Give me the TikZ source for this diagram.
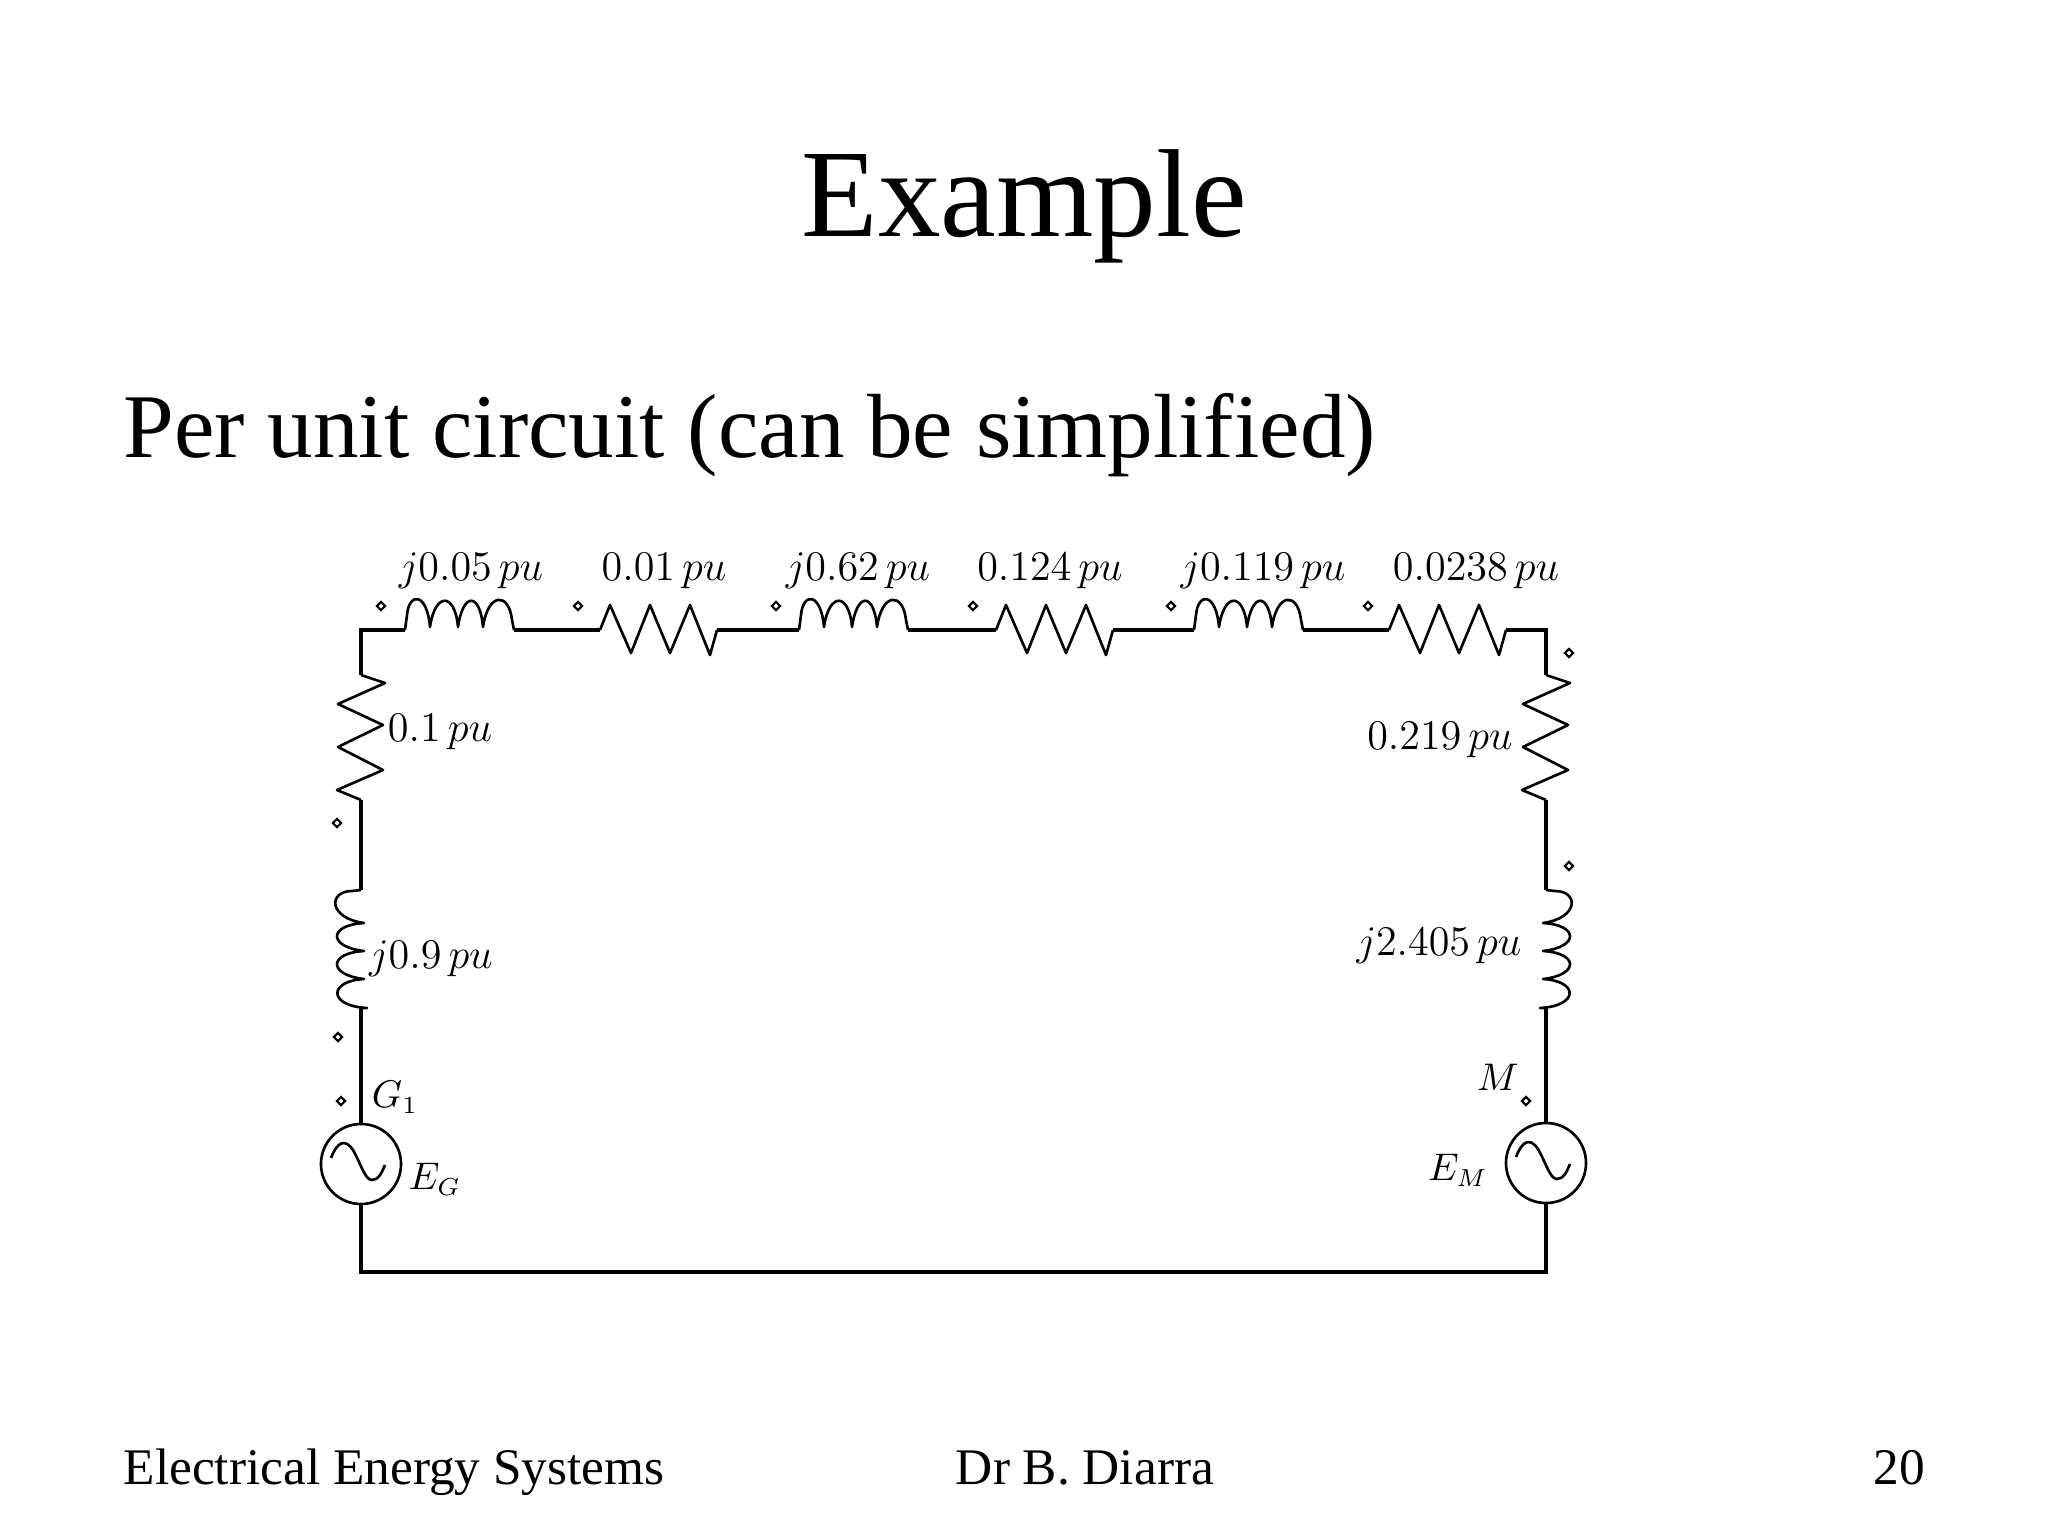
\documentclass[tikz,border=0pt]{standalone}
\usepackage{fontspec}
\setmainfont{Liberation Serif}
\usetikzlibrary{shapes.geometric}
\newcommand\pu{\,pu}
\tikzset{
  wire/.style={line width=1pt},
  part/.style={line width=0.75pt, line join=round},
  val/.style={inner sep=0pt, font=\fontsize{13}{16}\selectfont},
  tag/.style={inner sep=0pt, font=\fontsize{10.5}{13}\selectfont},
  dotm/.style={diamond, draw, line width=0.6pt, inner sep=0pt, minimum size=0.09cm},
  src/.style={circle, draw, part, inner sep=0pt, minimum size=0.8cm},
  resh/.pic={
    \coordinate (-a) at (0,0); \coordinate (-b) at (117,0);
    \draw[part] (-a) -- (10,-25) -- (31,23) -- (50,-25) -- (70,23) -- (90,-25) -- (110,25) -- (-b);
  },
  resv/.pic={
    \coordinate (-a) at (0,0); \coordinate (-b) at (0,125);
    \draw[part] (-a) -- (24,8) -- (-23,29) -- (22,50) -- (-23,72) -- (22,95) -- (-24,115) -- (-b);
  },
  indh/.pic={
    \coordinate (-a) at (0,0); \coordinate (-b) at (109,0);
    \draw[part] (-a) -- (2,-15) .. controls (4,-38) and (22,-38) .. (25,-3)
      .. controls (30,-38) and (50,-38) .. (53,-3)
      .. controls (58,-38) and (75,-38) .. (78,-3)
      .. controls (83,-38) and (104,-38) .. (107,-10) -- (-b);
  },
  indv/.pic={
    \coordinate (-a) at (0,0); \coordinate (-b) at (0,118);
    \draw[part] (-a) -- (9,1) .. controls (33,1) and (33,28) .. (-3,33)
      .. controls (33,35) and (33,57) .. (-3,61)
      .. controls (33,63) and (33,85) .. (-3,89)
      .. controls (33,91) and (33,116) .. (-6,118) -- (-b);
  },
  sine/.pic={
    \draw[part] (-30,-6) .. controls (-24,-22) and (-16,-26) .. (-8,-14)
      .. controls (0,0) and (4,16) .. (11,16) .. controls (18,16) and (21,8) .. (24,1);
  }
}
\begin{document}
\begin{tikzpicture}[x=0.01cm, y=-0.01cm]
\useasboundingbox (0,0) rectangle (2048,1536);
\node[anchor=base, font=\fontsize{35.6}{40}\selectfont] (title) at (1024,236) {Example};
\node[anchor=base west, inner sep=0pt, font=\fontsize{25.9}{30}\selectfont] (sub) at (123,457) {Per unit circuit (can be simplified)};
\node[anchor=base west, inner sep=0pt, font=\fontsize{14.6}{18}\selectfont] (foot1) at (123,1484) {Electrical Energy Systems};
\node[anchor=base, inner sep=0pt, font=\fontsize{14.6}{18}\selectfont] (foot2) at (1085,1484) {Dr B. Diarra};
\node[anchor=base east, inner sep=0pt, font=\fontsize{14.6}{18}\selectfont] (foot3) at (1926,1484) {20};

\coordinate (c1) at (361,630);
\coordinate (c2) at (1546,630);
\coordinate (c3) at (361,1272);
\coordinate (c4) at (1546,1272);
\path (405,630) pic (l1) {indh};
\path (600,630) pic (r1) {resh};
\path (799,630) pic (l2) {indh};
\path (996,630) pic (r2) {resh};
\path (1194,630) pic (l3) {indh};
\path (1389,630) pic (r3) {resh};
\path (361,675) pic (r4) {resv};
\path (361,890) pic[xscale=-1] (l4) {indv};
\path (1546,675) pic (r5) {resv};
\path (1546,890) pic (l5) {indv};
\node[src] (g1) at (361,1164) {};
\node[src] (m1) at (1546,1163) {};
\path (361,1164) pic {sine};
\path (1546,1163) pic {sine};

\draw[wire] (r4-a) -- (c1) -- (l1-a);
\draw[wire] (l1-b) -- (r1-a);
\draw[wire] (r1-b) -- (l2-a);
\draw[wire] (l2-b) -- (r2-a);
\draw[wire] (r2-b) -- (l3-a);
\draw[wire] (l3-b) -- (r3-a);
\draw[wire] (r3-b) -- (c2) -- (r5-a);
\draw[wire] (r4-b) -- (l4-a);
\draw[wire] (r5-b) -- (l5-a);
\draw[wire] (l4-b) -- (g1);
\draw[wire] (l5-b) -- (m1);
\draw[wire] (g1) -- (c3) -- (c4) -- (m1);

\node[val] (v1) at (471,571) {$j0.05\pu$};
\node[val] (v2) at (664,571) {$0.01\pu$};
\node[val] (v3) at (858,571) {$j0.62\pu$};
\node[val] (v4) at (1050,571) {$0.124\pu$};
\node[val] (v5) at (1263,571) {$j0.119\pu$};
\node[val] (v6) at (1476,571) {$0.0238\pu$};
\node[val] (v7) at (440,732) {$0.1\pu$};
\node[val] (v8) at (1440,740) {$0.219\pu$};
\node[val] (v9) at (431,959) {$j0.9\pu$};
\node[val] (v10) at (1439,946) {$j2.405\pu$};
\node[tag] (v11) at (395,1097) {$G_1$};
\node[tag] (v12) at (435,1179) {$E_G$};
\node[tag] (v13) at (1498,1077) {$M$};
\node[tag] (v14) at (1458,1170) {$E_M$};

\node[dotm] (d1) at (381,606) {};
\node[dotm] (d2) at (578,606) {};
\node[dotm] (d3) at (776,606) {};
\node[dotm] (d4) at (973,606) {};
\node[dotm] (d5) at (1171,606) {};
\node[dotm] (d6) at (1368,606) {};
\node[dotm] (d7) at (1569,653) {};
\node[dotm] (d8) at (337,823) {};
\node[dotm] (d9) at (1569,866) {};
\node[dotm] (d10) at (338,1037) {};
\node[dotm] (d11) at (341,1101) {};
\node[dotm] (d12) at (1526,1101) {};
\end{tikzpicture}
\end{document}
